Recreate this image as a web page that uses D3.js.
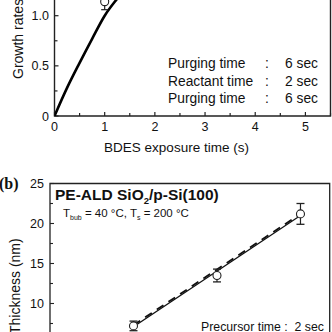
<!DOCTYPE html>
<html>
<head>
<meta charset="utf-8">
<script src="https://cdn.jsdelivr.net/npm/d3@7"></script>
<style>
  body { margin: 0; background: #fff; }
  svg { display: block; }
  text { font-family: "Liberation Sans", Arial, sans-serif; fill: #111; }
</style>
</head>
<body>
<svg id="chart"></svg>
<script>
// ---- panel (a) data: growth rate vs BDES exposure time ----
const fitTime = [0, 0.25, 0.5, 0.75, 1.0, 1.25, 1.5];
const fitRate = [0, 0.28, 0.53, 0.77, 1.0, 1.17, 1.32];
const pointTime = [1];
const pointRate = [1.14];
const pointRateErr = [0.08];
const xTicksA = [0, 1, 2, 3, 4, 5];
const yTicksA = [0, 0.5, 1.0];
const legendLabels = ["Purging time", "Reactant time", "Purging time"];
const legendValues = ["6 sec", "2 sec", "6 sec"];

// ---- panel (b) data: thickness vs cycles ----
const cycles = [100, 200, 300];
const thickness = [7.2, 13.5, 21.2];
const thicknessErr = [0.6, 0.8, 1.3];
const solidFit = [7.1, 21.0];
const dashFit = [7.3, 21.2];
const yTicksB = [10, 15, 20, 25];

const W = 332, H = 332;
const svg = d3.select("#chart").attr("width", W).attr("height", H);

// ================= panel (a) =================
const xA = d3.scaleLinear().domain([0, 5.5]).range([54.5, 330.5]);
const yA = d3.scaleLinear().domain([0, 1.0]).range([116, 15.7]);

const gA = svg.append("g");

svg.append("defs").append("clipPath").attr("id", "clipA")
  .append("rect")
  .attr("x", xA(0)).attr("y", yA(1.6))
  .attr("width", xA(5.5) - xA(0)).attr("height", yA(0) - yA(1.6));

// frame (left, bottom, right)
gA.append("path")
  .attr("d", `M${xA(0)},${yA(1.6)} V${yA(0)} H${xA(5.5)} V${yA(1.6)}`)
  .attr("fill", "none").attr("stroke", "#222").attr("stroke-width", 1.4);

// x ticks (inward)
gA.selectAll(".xtA")
  .data(d3.range(0, 5.51, 0.5))
  .enter().append("line")
  .attr("x1", d => xA(d)).attr("x2", d => xA(d))
  .attr("y1", yA(0)).attr("y2", d => yA(0) - (d % 1 === 0 ? 4 : 3))
  .attr("stroke", "#222").attr("stroke-width", 1.2);

gA.selectAll(".xlA")
  .data(xTicksA)
  .enter().append("text")
  .attr("x", d => xA(d)).attr("y", 131)
  .attr("text-anchor", "middle").attr("font-size", 12.5)
  .text(d => d);

// y ticks (inward)
gA.selectAll(".ytA")
  .data(d3.range(0, 1.51, 0.25))
  .enter().append("line")
  .attr("x1", xA(0)).attr("x2", d => xA(0) + (d % 0.5 === 0 ? 4 : 3))
  .attr("y1", d => yA(d)).attr("y2", d => yA(d))
  .attr("stroke", "#222").attr("stroke-width", 1.2);

gA.selectAll(".ylA")
  .data(yTicksA)
  .enter().append("text")
  .attr("x", 49).attr("y", d => yA(d) + 4.5)
  .attr("text-anchor", "end").attr("font-size", 12.5)
  .text(d => d === 0 ? "0" : d3.format(".1f")(d));

// axis titles
gA.append("text")
  .attr("x", xA(0) + 122).attr("y", 152)
  .attr("text-anchor", "middle").attr("font-size", 13.5)
  .text("BDES exposure time (s)");

gA.append("text")
  .attr("transform", "translate(23,79) rotate(-90)")
  .attr("font-size", 14)
  .text("Growth rates");

// fitted curve
const lineA = d3.line()
  .x((d, i) => xA(fitTime[i]))
  .y(d => yA(d))
  .curve(d3.curveMonotoneX);

gA.append("path")
  .datum(fitRate)
  .attr("clip-path", "url(#clipA)")
  .attr("d", lineA)
  .attr("fill", "none").attr("stroke", "#000").attr("stroke-width", 2.6);

// data point with error bar
pointTime.forEach((t, i) => {
  const cx = xA(t), cy = yA(pointRate[i]);
  const lo = yA(pointRate[i] - pointRateErr[i]), hi = yA(pointRate[i] + pointRateErr[i]);
  gA.append("line").attr("x1", cx).attr("x2", cx).attr("y1", hi).attr("y2", lo)
    .attr("stroke", "#222").attr("stroke-width", 1.2);
  [hi, lo].forEach(y => gA.append("line")
    .attr("x1", cx - 3.5).attr("x2", cx + 3.5).attr("y1", y).attr("y2", y)
    .attr("stroke", "#222").attr("stroke-width", 1.2));
  gA.append("circle").attr("cx", cx).attr("cy", cy).attr("r", 4)
    .attr("fill", "#fff").attr("stroke", "#222").attr("stroke-width", 1.1);
});

// legend text
const legendBase = [68, 85.5, 103];
legendLabels.forEach((lab, i) => {
  gA.append("text").attr("x", 168).attr("y", legendBase[i]).attr("font-size", 13.8).text(lab);
  gA.append("text").attr("x", 265).attr("y", legendBase[i]).attr("font-size", 13.8).text(":");
  gA.append("text").attr("x", 318).attr("y", legendBase[i]).attr("font-size", 13.8)
    .attr("text-anchor", "end").text(legendValues[i]);
});

// ================= panel (b) =================
const xB = d3.scaleLinear().domain([0, 335]).range([50, 329.7]);
const yB = d3.scaleLinear().domain([10, 25]).range([303.5, 183.5]);

const gB = svg.append("g");

// frame (top, left, right)
gB.append("path")
  .attr("d", `M${xB(0)},${H + 10} V${yB(25)} H${xB(335)} V${H + 10}`)
  .attr("fill", "none").attr("stroke", "#222").attr("stroke-width", 1.3);

gB.selectAll(".ytB")
  .data(d3.range(5, 25.1, 2.5))
  .enter().append("line")
  .attr("x1", xB(0)).attr("x2", d => xB(0) + (d % 5 === 0 ? 4 : 3))
  .attr("y1", d => yB(d)).attr("y2", d => yB(d))
  .attr("stroke", "#222").attr("stroke-width", 1.1);

gB.selectAll(".ylB")
  .data(yTicksB)
  .enter().append("text")
  .attr("x", 44).attr("y", d => yB(d) + 4.5)
  .attr("text-anchor", "end").attr("font-size", 12.5)
  .text(d => d);

gB.append("text")
  .attr("transform", "translate(20,334) rotate(-90)")
  .attr("font-size", 14)
  .text("Thickness (nm)");

gB.append("text")
  .attr("x", -1).attr("y", 189)
  .attr("font-weight", "bold").attr("font-size", 16)
  .style("font-family", "'Liberation Serif', 'Times New Roman', serif")
  .text("(b)");

// title
const title = gB.append("text").attr("x", 55).attr("y", 200)
  .attr("font-weight", "bold").attr("font-size", 15.5);
title.append("tspan").text("PE-ALD SiO");
title.append("tspan").attr("font-size", 9.5).attr("dy", 4).text("2");
title.append("tspan").attr("dy", -4).text("/p-Si(100)");

const cond = gB.append("text").attr("x", 63).attr("y", 217).attr("font-size", 11.5);
cond.append("tspan").text("T");
cond.append("tspan").attr("font-size", 7).attr("dy", 3).text("bub");
cond.append("tspan").attr("dy", -3).text(" = 40 \u00B0C, T");
cond.append("tspan").attr("font-size", 7).attr("dy", 3).text("s");
cond.append("tspan").attr("dy", -3).text(" = 200 \u00B0C");

gB.append("text").attr("x", 201).attr("y", 331).attr("font-size", 12.3)
  .style("white-space", "pre")
  .text("Precursor time :  2 sec");

// linear fits
const fitX = [cycles[0], cycles[cycles.length - 1]];
const lineB = d3.line().x((d, i) => xB(fitX[i])).y(d => yB(d));

gB.append("path").datum(solidFit).attr("d", lineB)
  .attr("fill", "none").attr("stroke", "#111").attr("stroke-width", 1.3);
gB.append("path").datum(dashFit).attr("d", lineB)
  .attr("fill", "none").attr("stroke", "#111").attr("stroke-width", 1.8)
  .attr("stroke-dasharray", "8,6");

// points with error bars
cycles.forEach((c, i) => {
  const cx = xB(c), cy = yB(thickness[i]);
  const lo = yB(thickness[i] - thicknessErr[i]), hi = yB(thickness[i] + thicknessErr[i]);
  gB.append("line").attr("x1", cx).attr("x2", cx).attr("y1", hi).attr("y2", lo)
    .attr("stroke", "#222").attr("stroke-width", 1.2);
  [hi, lo].forEach(y => gB.append("line")
    .attr("x1", cx - 4).attr("x2", cx + 4).attr("y1", y).attr("y2", y)
    .attr("stroke", "#222").attr("stroke-width", 1.3));
  gB.append("circle").attr("cx", cx).attr("cy", cy).attr("r", 4)
    .attr("fill", "#fff").attr("stroke", "#222").attr("stroke-width", 1.1);
});
</script>
</body>
</html>
